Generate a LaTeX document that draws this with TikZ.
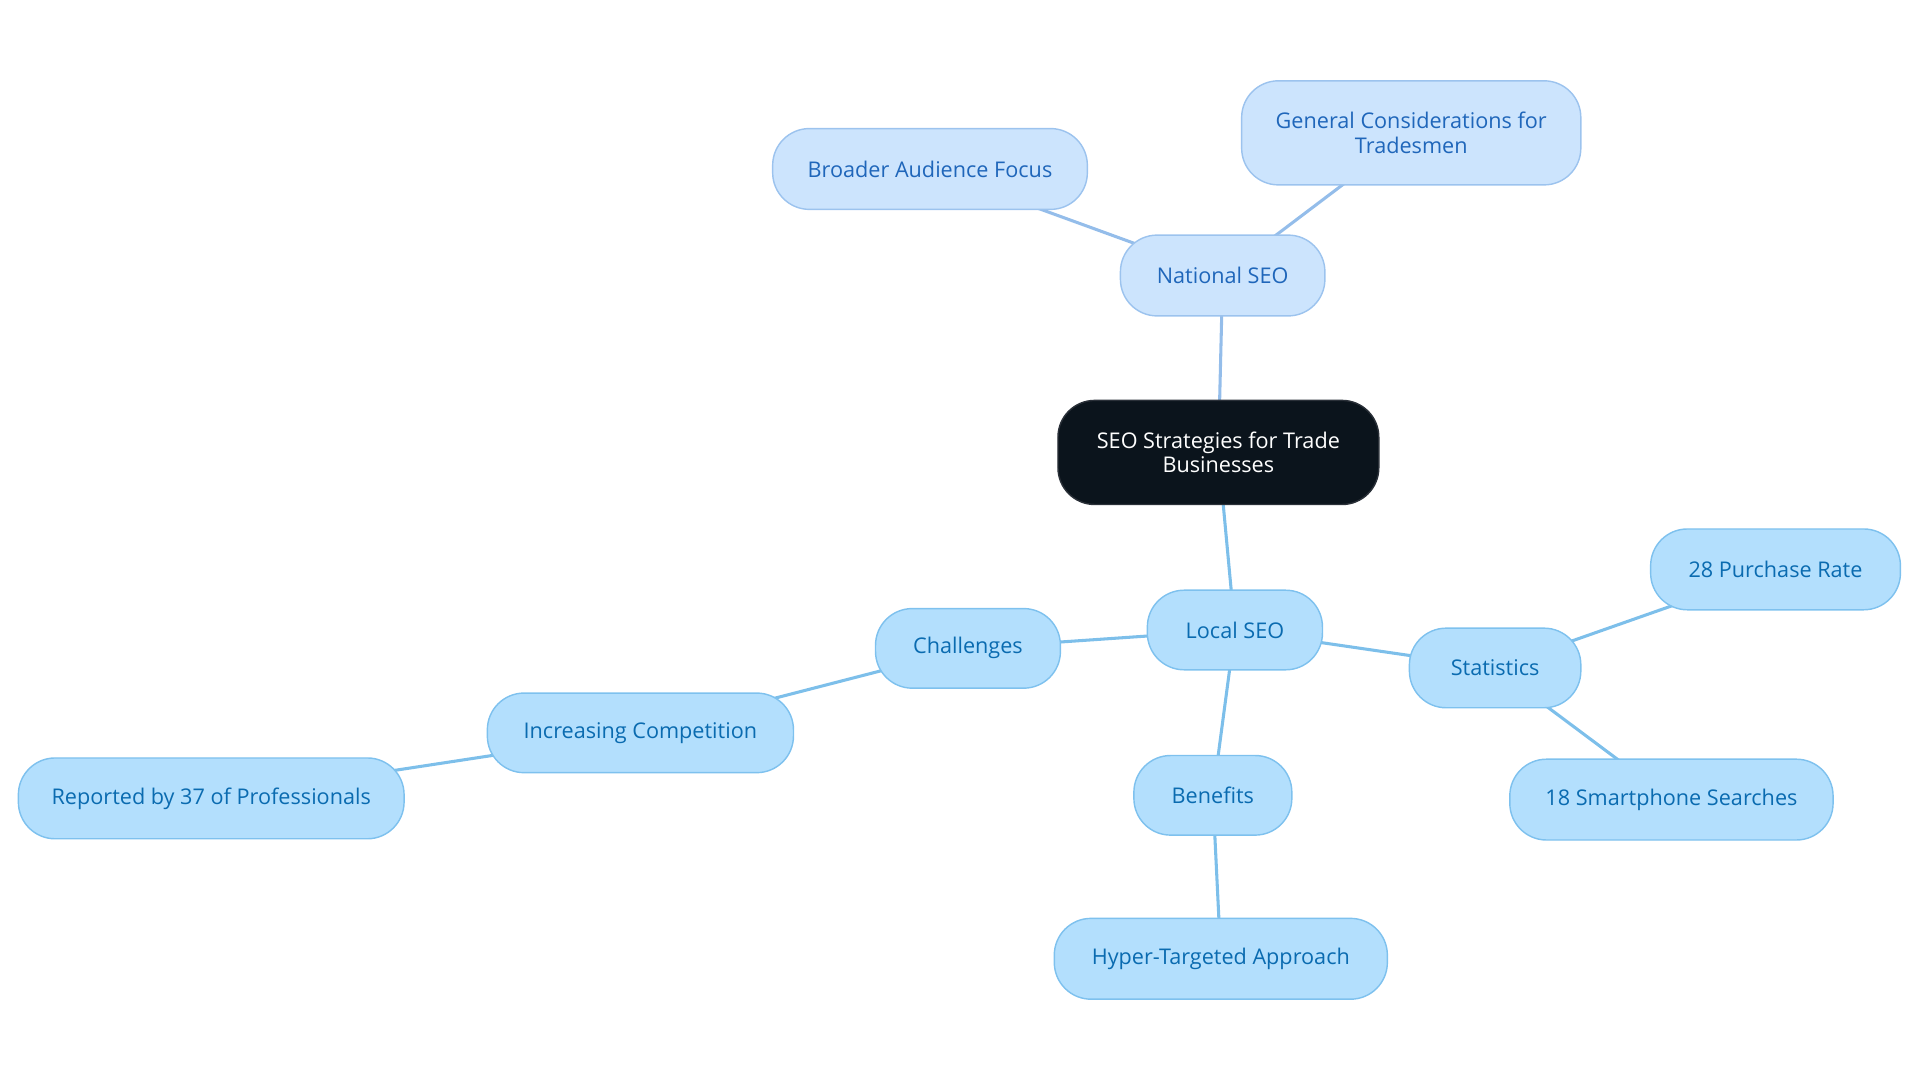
\documentclass[tikz,border=0pt]{standalone}
\usepackage{fontspec}
\setmainfont{Open Sans}
\usetikzlibrary{backgrounds}
\definecolor{natfill}{HTML}{CCE4FD}
\definecolor{natborder}{HTML}{9CC3EE}
\definecolor{nattext}{HTML}{1F66BA}
\definecolor{natedge}{HTML}{94BDEA}
\definecolor{locfill}{HTML}{B3DFFD}
\definecolor{locborder}{HTML}{7EC1EE}
\definecolor{loctext}{HTML}{0A6BB0}
\definecolor{locedge}{HTML}{7DBFEA}
\definecolor{rootfill}{HTML}{0B141C}
\definecolor{rootborder}{HTML}{2A3038}
\begin{document}
\begin{tikzpicture}[x=0.6pt,y=-0.6pt,
  base/.style={rounded corners=18pt, align=center, inner sep=0pt, outer sep=0pt,
    font=\fontsize{10.6}{12}\selectfont, line width=0.7pt, minimum height=39.6pt},
  nat/.style={base, draw=natborder, fill=natfill, text=nattext},
  loc/.style={base, draw=locborder, fill=locfill, text=loctext},
  root/.style={base, draw=rootborder, fill=rootfill, text=white, minimum height=51pt},
  natline/.style={draw=natedge, line width=1.5pt},
  locline/.style={draw=locedge, line width=1.5pt}]
\useasboundingbox (0,0) rectangle (1568,884);
\node[root, minimum width=157.2pt] (root) at (995,369.5) {SEO Strategies for Trade\\Businesses};
\node[nat, minimum width=100.2pt] (nat) at (998.5,225) {National SEO};
\node[nat, minimum width=154.2pt] (broad) at (759.5,138) {Broader Audience Focus};
\node[nat, minimum width=166.2pt, minimum height=51pt] (gen) at (1152.5,108.5) {General Considerations for\\Tradesmen};
\node[loc, minimum width=85.8pt, minimum height=39pt] (local) at (1008.5,514.5) {Local SEO};
\node[loc, minimum width=90.6pt, minimum height=39pt] (chal) at (790.5,529.5) {Challenges};
\node[loc, minimum width=150pt, minimum height=39pt] (inc) at (523,598.5) {Increasing Competition};
\node[loc, minimum width=189pt] (rep) at (172.5,652) {Reported by 37 of Professionals};
\node[loc, minimum width=77.4pt, minimum height=39pt] (ben) at (990.5,649.5) {Benefits};
\node[loc, minimum width=163.2pt] (hyp) at (997,783) {Hyper-Targeted Approach};
\node[loc, minimum width=84pt, minimum height=39pt] (stat) at (1221,545.5) {Statistics};
\node[loc, minimum width=122.4pt] (pur) at (1450,465) {28 Purchase Rate};
\node[loc, minimum width=158.4pt] (smart) at (1365,653) {18 Smartphone Searches};
\begin{pgfonlayer}{background}
\draw[natline] (root.center) -- (nat.center);
\draw[natline] (nat.center) -- (broad.center);
\draw[natline] (nat.center) -- (gen.center);
\draw[locline] (root.center) -- (local.center);
\draw[locline] (local.center) -- (chal.center);
\draw[locline] (chal.center) -- (inc.center);
\draw[locline] (inc.center) -- (rep.center);
\draw[locline] (local.center) -- (ben.center);
\draw[locline] (ben.center) -- (hyp.center);
\draw[locline] (local.center) -- (stat.center);
\draw[locline] (stat.center) -- (pur.center);
\draw[locline] (stat.center) -- (smart.center);
\end{pgfonlayer}
\end{tikzpicture}
\end{document}
